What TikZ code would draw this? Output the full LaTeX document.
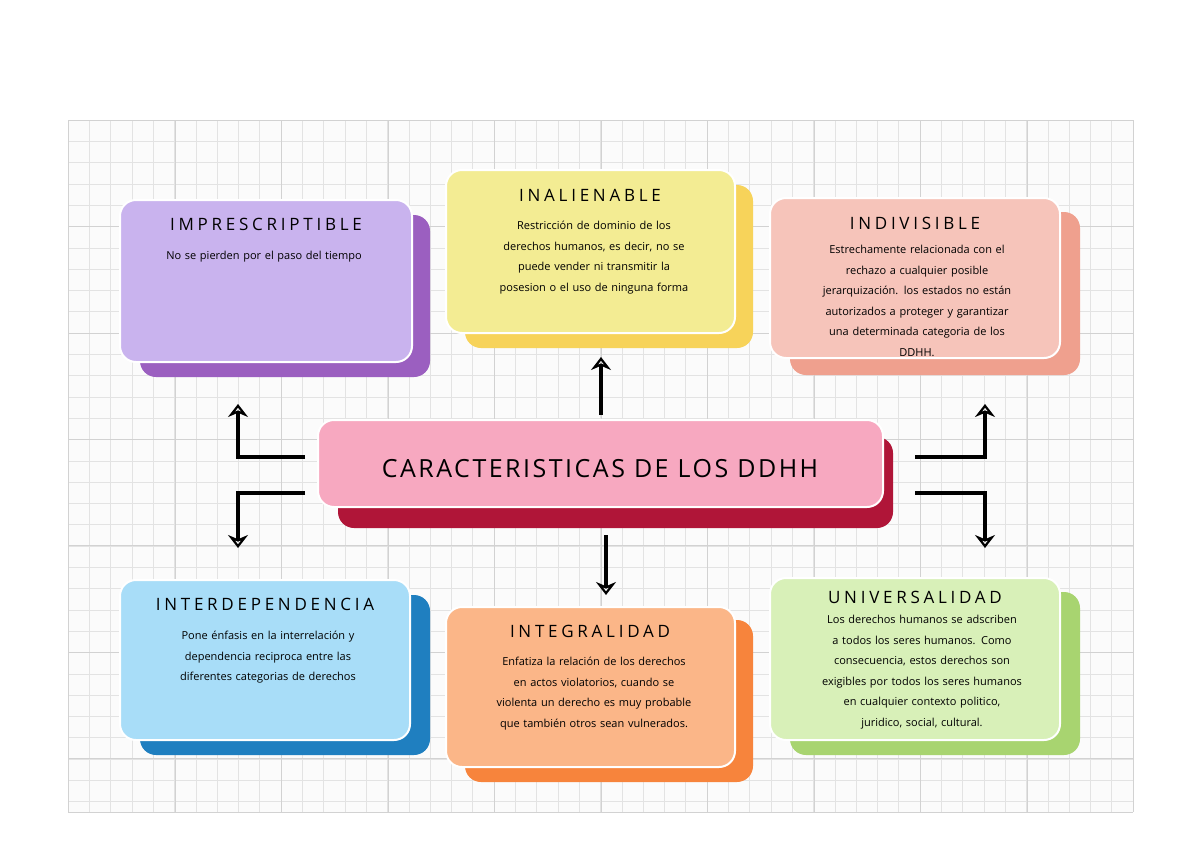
\documentclass[tikz,border=0pt]{standalone}
\usepackage{fontspec}
\setmainfont{Open Sans}
\usetikzlibrary{arrows.meta}
\definecolor{pf}{HTML}{C9B3EE}\definecolor{ps}{HTML}{9B5FC0}
\definecolor{yf}{HTML}{F3EC93}\definecolor{ys}{HTML}{F7D35A}
\definecolor{rf}{HTML}{F6C4BA}\definecolor{rs}{HTML}{EFA08E}
\definecolor{cf}{HTML}{F7A8C0}\definecolor{cs}{HTML}{B01538}
\definecolor{bf}{HTML}{A8DDF8}\definecolor{bs}{HTML}{1F7FC0}
\definecolor{of}{HTML}{FBB688}\definecolor{os}{HTML}{F7843C}
\definecolor{gf}{HTML}{D8F0B8}\definecolor{gs}{HTML}{A8D470}
\tikzset{
 frontbox/.style={draw=white,line width=2pt,rounded corners=16pt},
 shadowbox/.style={rounded corners=16pt},
 ttl/.style={font=\fontsize{17}{20}\selectfont\addfontfeature{LetterSpace=22},anchor=north},
 txt/.style={font=\fontsize{11}{20.5}\selectfont,align=center,anchor=north,text width=290pt},
 arr/.style={line width=4.5pt,-{Stealth[length=13pt,width=20pt,open,line width=3pt]}}
}
\begin{document}
\begin{tikzpicture}[x=1pt,y=-1pt]
\useasboundingbox (0,0) rectangle (1200,849);
\fill[white] (0,0) rectangle (1200,849);
\fill[gray!3] (68,120) rectangle (1133,812);
\foreach \i in {0,...,50} \draw[gray!22,line width=0.5pt] (68+21.3*\i,120)--(68+21.3*\i,812);
\foreach \i in {0,...,32} \draw[gray!22,line width=0.5pt] (68,120+21.3*\i)--(1133,120+21.3*\i);
\foreach \x in {68,175,281,388,494,601,707,814,920,1027,1133} \draw[gray!35,line width=0.8pt] (\x,120)--(\x,812);
\foreach \y in {120,226,333,439,545,652,758,812} \draw[gray!35,line width=0.8pt] (68,\y)--(1133,\y);
% boxes
\fill[shadowbox,ps] (140,215) rectangle (430,377);
\draw[frontbox,fill=pf] (120,200) rectangle (412,362);
\fill[shadowbox,ys] (465,185) rectangle (753,348);
\draw[frontbox,fill=yf] (446,170) rectangle (735,333);
\fill[shadowbox,rs] (790,212) rectangle (1080,375);
\draw[frontbox,fill=rf] (770,198) rectangle (1060,358);
\fill[shadowbox,cs] (338,437) rectangle (893,528);
\draw[frontbox,fill=cf] (318,420) rectangle (883,507);
\fill[shadowbox,bs] (140,595) rectangle (430,755);
\draw[frontbox,fill=bf] (120,580) rectangle (410,740);
\fill[shadowbox,os] (465,620) rectangle (753,782);
\draw[frontbox,fill=of] (446,607) rectangle (735,767);
\fill[shadowbox,gs] (790,592) rectangle (1080,755);
\draw[frontbox,fill=gf] (770,578) rectangle (1060,740);
% texts
\node[ttl] (t1) at (266,215) {IMPRESCRIPTIBLE};
\node[txt] (d1) at (264,248) {No se pierden por el paso del tiempo};
\node[ttl] (t2) at (590,186) {INALIENABLE};
\node[txt] (d2) at (594,218) {Restricción de dominio de los\\derechos humanos, es decir, no se\\puede vender ni transmitir la\\posesion o el uso de ninguna forma};
\node[ttl] (t3) at (915,214) {INDIVISIBLE};
\node[txt] (d3) at (917,242) {Estrechamente relacionada con el\\rechazo a cualquier posible\\jerarquización. los estados no están\\autorizados a proteger y garantizar\\una determinada categoria de los\\DDHH.};
\node[font=\fontsize{25}{30}\selectfont\addfontfeature{LetterSpace=10}] (c) at (600,469) {CARACTERISTICAS DE LOS DDHH};
\node[ttl] (t4) at (265,595) {INTERDEPENDENCIA};
\node[txt] (d4) at (268,628) {Pone énfasis en la interrelación y\\dependencia reciproca entre las\\diferentes categorias de derechos};
\node[ttl] (t5) at (590,622) {INTEGRALIDAD};
\node[txt] (d5) at (594,654) {Enfatiza la relación de los derechos\\en actos violatorios, cuando se\\violenta un derecho es muy probable\\que también otros sean vulnerados.};
\node[ttl] (t6) at (915,588) {UNIVERSALIDAD};
\node[txt] (d6) at (922,612) {Los derechos humanos se adscriben\\a todos los seres humanos. Como\\consecuencia, estos derechos son\\exigibles por todos los seres humanos\\en cualquier contexto politico,\\juridico, social, cultural.};
% arrows
\coordinate (a1) at (305,457); \coordinate (a2) at (305,493);
\coordinate (a3) at (915,457); \coordinate (a4) at (915,493);
\draw[arr] (a1) -- (238,457) -- (238,404);
\draw[arr] (a2) -- (238,493) -- (238,548);
\draw[arr] (a3) -- (985,457) -- (985,404);
\draw[arr] (a4) -- (985,493) -- (985,548);
\coordinate (u) at (601,415); \coordinate (dn) at (606,535);
\draw[arr] (u) -- (601,357);
\draw[arr] (dn) -- (606,595);
\end{tikzpicture}
\end{document}
